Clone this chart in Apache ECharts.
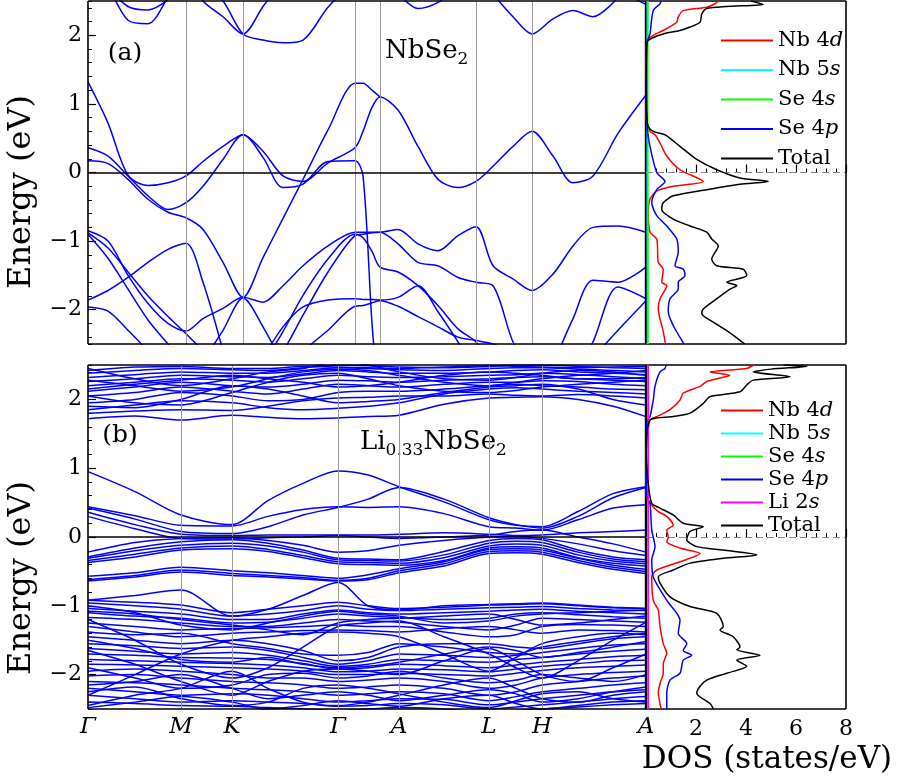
<!DOCTYPE html>
<html><head><meta charset="utf-8">
<script src="https://cdn.jsdelivr.net/npm/echarts@6/dist/echarts.min.js"></script>
<style>html,body{margin:0;padding:0;background:#fff}#c{width:909px;height:780px}</style>
</head><body><div id="c"></div>
<script>
// ---------- k-path (relative path length) ----------
const kA = [0,20,40,60,80,98,115,135,155,175,195,215,240,267,275,284,292,310,330,350,370,388,405,425,444,465,485,505,530,558];
const symA = [0,98,155,267,292,388,444,558];
const kB = [0,47,93,144,180,215,250,280,311,356,401,428,454,490,525,558];
const symB = [0,93,144,250,311,401,454,558];
const symLabels = ['Γ','M','K','Γ','A','L','H','A'];

// ---------- (a) NbSe2 bands (eV) ----------
const bandA_P = [1.32,0.72,-0.04,-0.19,-0.15,-0.05,0.16,0.38,0.55,0.22,-0.22,-0.17,0.16,0.17,-0.05,-2.2,-3.5,null,null,null,null,null,null,null,null,null,null,null,null,null];
const bandA_Q = [0.36,0.24,-0.05,-0.34,-0.54,-0.44,-0.2,0.19,0.55,0.31,-0.05,-0.13,0.14,0.36,0.6,0.95,1.1,0.91,0.38,-0.1,-0.22,-0.13,0.09,0.38,0.6,0.24,-0.15,-0.05,0.57,1.13];
const bandA_R = [0.17,0.13,-0.1,-0.39,-0.58,-0.66,-0.83,-1.31,-1.82,-1.24,-0.67,-0.1,0.62,1.3,1.3,1.2,1.1,null,null,null,null,null,null,null,null,null,null,null,null,null];
const bandA_S = [-0.85,-1.0,-1.5,-1.91,-2.2,-2.31,-2.13,-1.98,-1.82,-1.89,-1.65,-1.36,-1.07,-0.87,-0.87,-0.87,-0.87,-0.83,-1.04,-1.14,-0.92,-0.79,-1.36,-1.55,-1.72,-1.48,-1.07,-0.8,-0.78,-0.87];
const bandA_T = [-0.88,-1.1,-1.45,-1.8,-2.1,-2.35,-2.6,null,null,-2.8,-2.32,-1.79,-1.26,-0.9,-0.95,-1.15,-1.38,-1.45,-1.65,-1.94,-2.28,-2.47,-2.8,null,null,-2.8,-2.13,-1.57,-1.6,-1.38];
const bandA_U = [-0.9,-1.25,-1.7,-2.15,-2.5,-2.8,null,null,null,-2.9,-2.6,-2.08,-1.45,-0.92,-0.9,-0.88,-0.87,-1.04,-1.31,-1.36,-1.53,-1.6,-1.65,-2.47,-2.9,null,null,null,null,null];
const bandA_V = [-1.86,-1.72,-1.53,-1.31,-1.12,-1.03,-1.6,-2.6,null,-2.7,-2.25,-1.96,-1.86,-1.84,-1.85,-1.85,-1.86,-1.82,-1.65,-2.03,-2.47,-2.9,null,null,null,null,-3.0,-2.47,-1.67,-1.84];
const bandA_W = [-1.96,-2.02,-2.3,-2.6,null,null,null,null,null,null,null,-2.6,-2.3,-1.95,-1.94,-1.9,-1.87,-1.95,-2.1,-2.25,-2.4,-2.45,-2.5,-2.62,null,null,null,-2.7,-2.3,-1.87];
const bandA_Y = [null,null,null,null,null,null,-2.75,-2.3,-1.83,-2.25,-2.8,null,null,null,null,null,null,null,null,null,null,null,null,null,null,null,null,null,null,null];
const bandA_U1 = [null,2.7,2.42,2.37,2.52,2.8,null,null,null,null,null,null,null,null,null,null,null,null,null,null,null,null,null,null,null,null,null,null,null,null];
const bandA_U2 = [null,2.75,2.22,2.17,2.55,2.9,null,null,null,null,null,null,null,null,null,null,null,null,null,null,null,null,null,null,null,null,null,null,null,null];
const bandA_U3 = [null,null,null,null,null,2.9,2.5,2.27,2.02,2.42,2.8,null,null,null,null,null,null,null,null,null,null,null,null,null,null,null,null,null,null,null];
const bandA_U4 = [null,null,null,null,null,null,2.75,2.5,2.02,1.93,1.89,1.93,2.41,2.8,null,null,null,null,null,null,null,null,null,null,null,null,null,null,null,null];
const bandA_U5 = [null,null,null,null,null,null,null,null,null,null,null,null,null,null,null,null,2.8,2.6,2.39,2.48,2.7,null,null,null,null,null,null,null,null,null];
const bandA_U6 = [null,null,null,null,null,null,null,null,null,null,null,null,null,null,null,null,null,null,null,null,null,null,2.6,2.27,2.02,2.24,2.36,2.27,2.55,null];
const bandA_U7 = [null,null,null,null,null,null,null,null,null,null,null,null,null,null,null,null,null,null,null,null,null,null,null,null,null,null,null,null,2.65,2.45];

// ---------- (b) Li0.33NbSe2 bands (eV) ----------
const bandB_H1 = [1.72,1.76,1.7,1.77,1.74,1.72,1.73,1.75,1.77,1.93,2.02,2.03,2.04,2.0,1.9,1.75];
const bandB_H2 = [1.8,1.83,1.85,1.84,1.9,1.98,2.02,2.03,2.05,2.05,2.08,2.06,2.05,2.07,2.05,2.02];
const bandB_H3 = [1.85,1.92,1.98,1.95,1.88,1.85,1.87,1.9,1.95,2.08,2.15,2.17,2.15,2.12,2.1,2.08];
const bandB_H4 = [1.95,2.0,2.1,2.05,1.98,2.0,2.1,2.12,2.12,2.15,2.2,2.22,2.2,2.18,2.15,2.14];
const bandB_H5 = [2.05,2.1,2.18,2.12,2.08,2.15,2.22,2.2,2.18,2.22,2.25,2.25,2.27,2.26,2.22,2.2];
const bandB_H6 = [2.12,2.18,2.25,2.2,2.18,2.22,2.28,2.27,2.25,2.28,2.3,2.32,2.33,2.3,2.28,2.26];
const bandB_H7 = [2.2,2.25,2.3,2.28,2.25,2.3,2.35,2.33,2.32,2.33,2.35,2.36,2.38,2.36,2.33,2.3];
const bandB_H8 = [2.26,2.3,2.35,2.33,2.32,2.37,2.42,2.4,2.38,2.38,2.4,2.42,2.43,2.4,2.38,2.36];
const bandB_H9 = [2.32,2.36,2.4,2.38,2.38,2.42,2.46,2.45,2.43,2.42,2.45,2.46,2.46,2.44,2.42,2.4];
const bandB_H10 = [2.38,2.42,2.45,2.43,2.42,2.46,2.5,2.49,2.47,2.46,2.48,2.5,2.5,2.48,2.46,2.45];
const bandB_H11 = [2.05,1.95,1.92,2.1,2.25,2.35,2.38,2.3,2.2,2.12,2.1,2.13,2.18,2.22,2.25,2.28];
const bandB_H12 = [2.45,2.3,2.2,2.3,2.4,2.45,2.55,2.5,2.4,2.3,2.28,2.32,2.38,2.42,2.4,2.35];
const bandB_H13 = [1.9,1.88,2.0,2.2,2.15,2.05,1.95,1.97,2.0,2.1,2.18,2.2,2.22,2.15,2.0,1.92];
const bandB_H14 = [2.15,2.22,2.28,2.35,2.3,2.25,2.18,2.2,2.25,2.35,2.4,2.38,2.35,2.3,2.3,2.32];
const bandB_H15 = [2.28,2.2,2.12,2.18,2.3,2.4,2.44,2.42,2.35,2.25,2.2,2.25,2.3,2.35,2.38,2.42];
const bandB_H16 = [2.42,2.47,2.48,2.45,2.45,2.48,2.47,2.46,2.45,2.47,2.49,2.48,2.47,2.46,2.47,2.48];
const bandB_B1 = [0.95,0.66,0.32,0.18,0.53,0.78,0.96,0.9,0.73,0.51,0.25,0.17,0.15,0.37,0.63,0.73];
const bandB_B2 = [0.44,0.31,0.17,0.16,0.3,0.4,0.44,0.43,0.44,0.34,0.15,0.13,0.1,0.25,0.42,0.47];
const bandB_B3 = [0.42,0.26,0.08,0.05,0.15,0.32,0.43,0.55,0.72,0.55,0.28,0.18,0.13,0.3,0.57,0.72];
const bandB_B4 = [0.36,0.18,0.04,0.02,0.03,0.03,0.03,0.03,0.04,0.06,0.04,0.02,0.03,0.06,0.08,0.1];
const bandB_B5 = [0.3,0.12,-0.02,-0.03,-0.01,0.0,0.02,0.0,-0.02,0.0,0.03,0.08,0.1,0.0,-0.1,-0.22];
const bandB_C0 = [-0.22,-0.08,-0.02,-0.01,-0.05,-0.12,-0.22,-0.2,-0.12,-0.05,0.0,0.01,-0.02,-0.1,-0.2,-0.27];
const bandB_C1 = [-0.29,-0.16,-0.07,-0.04,-0.09,-0.19,-0.31,-0.32,-0.33,-0.21,-0.05,-0.02,-0.04,-0.19,-0.29,-0.33];
const bandB_C2 = [-0.31,-0.2,-0.12,-0.09,-0.13,-0.22,-0.33,-0.34,-0.35,-0.26,-0.09,-0.06,-0.08,-0.22,-0.32,-0.36];
const bandB_C3 = [-0.34,-0.25,-0.16,-0.13,-0.18,-0.27,-0.36,-0.37,-0.38,-0.3,-0.13,-0.1,-0.12,-0.26,-0.35,-0.39];
const bandB_C4 = [-0.37,-0.29,-0.19,-0.17,-0.21,-0.3,-0.39,-0.4,-0.41,-0.34,-0.16,-0.14,-0.16,-0.3,-0.38,-0.42];
const bandB_D1 = [-0.57,-0.52,-0.44,-0.49,-0.52,-0.56,-0.6,-0.55,-0.46,-0.36,-0.18,-0.17,-0.19,-0.31,-0.41,-0.47];
const bandB_D2 = [-0.62,-0.56,-0.48,-0.53,-0.56,-0.59,-0.63,-0.6,-0.49,-0.39,-0.21,-0.2,-0.22,-0.34,-0.44,-0.5];
const bandB_D3 = [-0.64,-0.58,-0.51,-0.56,-0.58,-0.61,-0.64,-0.62,-0.52,-0.42,-0.24,-0.23,-0.25,-0.37,-0.47,-0.53];
const bandB_E1 = [-0.92,-0.85,-0.77,-1.15,-1.05,-0.85,-0.66,-1.0,-1.06,-1.0,-0.98,-0.97,-0.96,-0.99,-1.02,-1.04];
const bandB_L1 = [-0.92,-0.95,-0.99,-1.1,-1.05,-1.0,-0.95,-1.0,-1.04,-1.02,-0.99,-0.98,-0.97,-1.0,-1.03,-1.04];
const bandB_L2 = [-0.96,-1.0,-1.05,-1.15,-1.12,-1.07,-1.0,-1.05,-1.07,-1.05,-1.03,-1.02,-1.01,-1.04,-1.06,-1.07];
const bandB_L3 = [-1.04,-1.08,-1.12,-1.2,-1.2,-1.12,-1.06,-1.1,-1.12,-1.1,-1.08,-1.06,-1.05,-1.08,-1.1,-1.12];
const bandB_L4 = [-1.1,-1.15,-1.18,-1.25,-1.24,-1.18,-1.12,-1.15,-1.17,-1.2,-1.18,-1.12,-1.1,-1.13,-1.16,-1.18];
const bandB_L5 = [-1.17,-1.2,-1.25,-1.3,-1.3,-1.25,-1.2,-1.22,-1.24,-1.3,-1.35,-1.28,-1.18,-1.2,-1.22,-1.24];
const bandB_L6 = [-1.25,-1.3,-1.35,-1.33,-1.32,-1.3,-1.28,-1.3,-1.3,-1.38,-1.45,-1.42,-1.3,-1.27,-1.28,-1.3];
const bandB_L7 = [-1.3,-1.38,-1.45,-1.4,-1.38,-1.36,-1.35,-1.36,-1.38,-1.33,-1.3,-1.35,-1.4,-1.35,-1.36,-1.38];
const bandB_M1 = [-1.45,-1.5,-1.55,-1.5,-1.55,-1.65,-1.8,-1.75,-1.6,-1.55,-1.55,-1.6,-1.62,-1.55,-1.48,-1.45];
const bandB_M2 = [-1.55,-1.58,-1.62,-1.6,-1.65,-1.75,-1.85,-1.8,-1.7,-1.72,-1.75,-1.72,-1.68,-1.62,-1.57,-1.55];
const bandB_M3 = [-1.62,-1.66,-1.7,-1.68,-1.72,-1.8,-1.88,-1.85,-1.78,-1.8,-1.82,-1.78,-1.75,-1.7,-1.66,-1.63];
const bandB_M4 = [-1.7,-1.72,-1.75,-1.76,-1.78,-1.84,-1.92,-1.9,-1.85,-1.87,-1.9,-1.86,-1.82,-1.78,-1.74,-1.72];
const bandB_M5 = [-1.78,-1.8,-1.82,-1.84,-1.86,-1.9,-1.96,-1.95,-1.92,-1.93,-1.96,-1.92,-1.88,-1.84,-1.8,-1.79];
const bandB_M6 = [-1.85,-1.86,-1.88,-1.9,-1.92,-1.95,-2.0,-2.0,-1.98,-2.0,-2.02,-1.98,-1.94,-1.9,-1.88,-1.86];
const bandB_D4 = [-1.95,-1.92,-1.95,-2.0,-2.05,-2.05,-2.1,-2.08,-2.05,-2.1,-2.2,-2.15,-2.05,-2.0,-1.97,-1.95];
const bandB_D5 = [-2.02,-2.0,-2.05,-2.1,-2.12,-2.15,-2.2,-2.18,-2.15,-2.2,-2.3,-2.25,-2.15,-2.1,-2.05,-2.02];
const bandB_D6 = [-2.1,-2.12,-2.15,-2.2,-2.22,-2.25,-2.3,-2.28,-2.25,-2.28,-2.38,-2.32,-2.25,-2.2,-2.15,-2.12];
const bandB_D7 = [-2.2,-2.25,-2.3,-2.28,-2.3,-2.35,-2.4,-2.38,-2.35,-2.36,-2.44,-2.4,-2.35,-2.3,-2.25,-2.22];
const bandB_D8 = [-2.3,-2.35,-2.4,-2.38,-2.4,-2.42,-2.46,-2.45,-2.42,-2.44,-2.5,-2.47,-2.44,-2.4,-2.35,-2.32];
const bandB_D9 = [-2.4,-2.42,-2.45,-2.46,-2.48,-2.5,-2.52,-2.5,-2.48,-2.5,-2.55,-2.52,-2.5,-2.47,-2.44,-2.42];
const bandB_X1 = [-1.2,-1.5,-1.85,-2.05,-1.9,-1.6,-1.3,-1.25,-1.22,-1.45,-1.7,-1.9,-2.05,-1.8,-1.5,-1.24];
const bandB_X2 = [-2.3,-2.0,-1.7,-1.5,-1.45,-1.4,-1.38,-1.4,-1.45,-1.7,-1.95,-1.75,-1.55,-1.45,-1.4,-1.42];
const bandB_X3 = [-1.65,-1.85,-2.1,-2.3,-2.1,-1.95,-1.92,-1.95,-2.0,-1.8,-1.62,-1.8,-2.0,-2.1,-1.9,-1.7];
const bandB_X4 = [-2.45,-2.3,-2.2,-1.95,-2.2,-2.4,-2.45,-2.4,-2.3,-2.15,-2.05,-2.2,-2.35,-2.4,-2.3,-2.25];
const bandB_Y1 = [-1.0,-1.1,-1.28,-1.35,-1.25,-1.15,-1.08,-1.12,-1.15,-1.25,-1.22,-1.15,-1.12,-1.1,-1.08,-1.06];
const bandB_Y2 = [-1.38,-1.42,-1.4,-1.55,-1.62,-1.7,-1.72,-1.68,-1.55,-1.6,-1.68,-1.7,-1.6,-1.52,-1.45,-1.4];
const bandB_Y3 = [-1.5,-1.62,-1.78,-1.82,-1.75,-1.85,-1.9,-1.88,-1.82,-1.7,-1.6,-1.65,-1.75,-1.68,-1.6,-1.52];
const bandB_Y4 = [-1.9,-2.05,-2.2,-2.15,-2.0,-1.98,-2.05,-2.02,-1.95,-2.05,-2.12,-2.08,-2.0,-2.05,-2.1,-2.0];
const bandB_Y5 = [-2.15,-2.1,-2.0,-2.2,-2.35,-2.3,-2.25,-2.3,-2.38,-2.3,-2.22,-2.28,-2.4,-2.35,-2.25,-2.18];
const bandB_Y6 = [-2.25,-2.18,-2.35,-2.45,-2.4,-2.2,-2.15,-2.2,-2.28,-2.4,-2.48,-2.38,-2.28,-2.25,-2.35,-2.4];
const bandB_Y7 = [-1.08,-1.12,-1.2,-1.28,-1.35,-1.42,-1.25,-1.2,-1.18,-1.15,-1.12,-1.2,-1.28,-1.25,-1.2,-1.15];
const bandB_Y8 = [-2.48,-2.4,-2.32,-2.4,-2.5,-2.45,-2.38,-2.42,-2.46,-2.35,-2.3,-2.42,-2.5,-2.45,-2.4,-2.38];

// ---------- DOS (pairs [E, states/eV]) ----------
const dosA_total = [[2.5,4.2],[2.45,4.69],[2.42,3.2],[2.39,2.43],[2.31,2.23],[2.19,2.16],[2.12,1.76],[2.07,1.36],[2.02,0.69],[1.96,0.25],[1.9,0.03],[1.5,0.01],[1.11,0.0],[0.8,0.03],[0.67,0.09],[0.6,0.29],[0.55,0.76],[0.38,1.36],[0.19,2.03],[0.04,2.83],[-0.08,3.76],[-0.13,4.89],[-0.17,3.76],[-0.25,2.43],[-0.34,1.09],[-0.44,0.69],[-0.54,0.63],[-0.68,1.09],[-0.78,1.76],[-0.87,2.43],[-0.97,2.63],[-1.07,2.89],[-1.26,2.63],[-1.36,2.83],[-1.41,3.89],[-1.5,4.03],[-1.6,3.23],[-1.65,3.63],[-1.7,3.36],[-1.84,2.83],[-1.99,2.29],[-2.06,2.23],[-2.18,2.69],[-2.32,3.29],[-2.5,3.95]];
const dosA_nb4d = [[2.5,2.9],[2.46,2.76],[2.41,2.43],[2.36,1.49],[2.27,1.29],[2.19,1.23],[2.07,0.69],[2.0,0.29],[1.93,0.05],[1.5,0.0],[0.8,0.01],[0.6,0.16],[0.55,0.36],[0.43,0.56],[0.24,0.83],[0.04,1.36],[-0.13,2.29],[-0.2,1.09],[-0.27,0.43],[-0.39,0.16],[-0.58,0.09],[-0.87,0.16],[-0.97,0.43],[-1.31,0.49],[-1.41,0.69],[-1.6,0.63],[-1.65,0.83],[-1.84,0.56],[-1.99,0.49],[-2.32,0.69],[-2.5,0.78]];
const dosA_nb5s = [[2.5,0.05],[0.0,0.05],[-2.5,0.06]];
const dosA_se4s = [[2.5,0.08],[1.0,0.07],[-1.0,0.08],[-2.5,0.08]];
const dosA_se4p = [[2.5,0.6],[2.46,0.56],[2.36,0.29],[2.02,0.16],[1.9,0.05],[1.5,0.02],[0.67,0.05],[0.38,0.16],[0.0,0.43],[-0.13,0.76],[-0.25,0.43],[-0.44,0.23],[-0.63,0.43],[-0.78,0.83],[-0.97,1.23],[-1.16,1.29],[-1.36,1.16],[-1.41,1.49],[-1.5,1.56],[-1.6,1.29],[-1.7,1.29],[-1.84,0.96],[-2.03,0.89],[-2.23,1.09],[-2.5,1.52]];

const dosB_total = [[2.5,5.5],[2.48,6.43],[2.44,5.0],[2.4,4.29],[2.33,5.76],[2.28,4.29],[2.21,4.03],[2.11,3.76],[2.04,2.56],[1.94,2.29],[1.8,1.76],[1.75,1.09],[1.7,0.16],[1.2,0.01],[0.78,0.09],[0.49,0.23],[0.42,0.56],[0.32,1.09],[0.2,1.49],[0.15,2.29],[0.08,1.76],[-0.04,1.63],[-0.14,2.03],[-0.19,3.09],[-0.26,4.43],[-0.31,3.09],[-0.38,1.76],[-0.48,1.09],[-0.58,0.49],[-0.67,0.56],[-0.87,0.96],[-1.01,1.76],[-1.11,2.83],[-1.3,3.09],[-1.35,2.96],[-1.45,3.49],[-1.6,3.76],[-1.64,3.63],[-1.72,4.56],[-1.79,3.63],[-1.88,4.03],[-1.98,3.23],[-2.08,2.43],[-2.17,2.16],[-2.27,2.03],[-2.42,2.56],[-2.5,2.7]];
const dosB_nb4d = [[2.5,4.3],[2.45,4.03],[2.4,2.56],[2.35,3.36],[2.31,2.96],[2.26,2.43],[2.19,2.16],[2.09,1.49],[1.99,1.36],[1.85,0.96],[1.75,0.43],[1.7,0.16],[1.2,0.0],[0.6,0.02],[0.49,0.16],[0.37,0.49],[0.3,0.83],[0.17,1.09],[0.1,0.83],[0.0,0.89],[-0.07,0.83],[-0.16,1.36],[-0.24,2.16],[-0.36,1.36],[-0.48,0.43],[-0.58,0.23],[-0.92,0.29],[-1.06,0.49],[-1.3,0.56],[-1.55,0.69],[-1.69,0.83],[-1.84,0.69],[-1.98,0.69],[-2.13,0.56],[-2.27,0.49],[-2.42,0.56],[-2.5,0.6]];
const dosB_nb5s = [[2.5,0.07],[0.0,0.07],[-2.5,0.07]];
const dosB_se4s = [[2.5,0.08],[0.0,0.08],[-2.5,0.08]];
const dosB_se4p = [[2.5,0.8],[2.45,0.76],[2.4,0.56],[2.19,0.36],[1.99,0.29],[1.75,0.16],[1.7,0.05],[1.2,0.01],[0.6,0.03],[0.49,0.16],[0.1,0.23],[-0.14,0.36],[-0.33,0.23],[-0.58,0.29],[-0.92,0.83],[-1.21,1.36],[-1.4,1.29],[-1.55,1.63],[-1.65,1.49],[-1.72,1.83],[-1.79,1.49],[-1.98,1.36],[-2.08,0.96],[-2.27,0.83],[-2.5,0.83]];
const dosB_li2s = [[2.5,0.09],[0.0,0.09],[-2.5,0.09]];

// ---------- assembly ----------
const bandsA = [bandA_P,bandA_Q,bandA_R,bandA_S,bandA_T,bandA_U,bandA_V,bandA_W,bandA_Y,bandA_U1,bandA_U2,bandA_U3,bandA_U4,bandA_U5,bandA_U6,bandA_U7];
const bandsB = [bandB_H1,bandB_H2,bandB_H3,bandB_H4,bandB_H5,bandB_H6,bandB_H7,bandB_H8,bandB_H9,bandB_H10,bandB_H11,bandB_H12,
  bandB_H13,bandB_H14,bandB_H15,bandB_H16,
  bandB_B1,bandB_B2,bandB_B3,bandB_B4,bandB_B5,bandB_C0,bandB_C1,bandB_C2,bandB_C3,bandB_C4,bandB_D1,bandB_D2,bandB_D3,bandB_E1,
  bandB_L1,bandB_L2,bandB_L3,bandB_L4,bandB_L5,bandB_L6,bandB_L7,bandB_M1,bandB_M2,bandB_M3,bandB_M4,bandB_M5,bandB_M6,
  bandB_D4,bandB_D5,bandB_D6,bandB_D7,bandB_D8,bandB_D9,bandB_X1,bandB_X2,bandB_X3,bandB_X4,
  bandB_Y1,bandB_Y2,bandB_Y3,bandB_Y4,bandB_Y5,bandB_Y6,bandB_Y7,bandB_Y8];

const FONT = 'DejaVu Serif';
const BLUE = '#0000ff';
const E_MIN = -2.5, E_MAX = 2.5, K_MAX = 558, DOS_MAX = 8;
const fmtE = v => (v < 0 ? '\u2212' + (-v) : '' + v);
const frameLine = (w) => ({ color: '#000', width: w, type: 'solid' });

function bandSeries(ks, bands, xi, yi, markLine) {
  return bands.map((b, j) => {
    const s = {
      type: 'line', xAxisIndex: xi, yAxisIndex: yi, silent: true,
      symbol: 'none', showSymbol: false, smooth: 0.3, animation: false,
      lineStyle: { color: BLUE, width: 1.5 }, color: BLUE, z: 3,
      data: ks.map((k, i) => [k, b[i]])
    };
    if (j === 0 && markLine) s.markLine = markLine;
    return s;
  });
}

function symMarkLine(ks, withLabels) {
  const data = ks.map((k, i) => {
    const edge = k === 0 || k === K_MAX;
    return {
      xAxis: k, name: withLabels ? symLabels[i] : '',
      lineStyle: edge ? frameLine(k === 0 ? 1.6 : 2.4) : { color: '#9a9a9a', width: 1, type: 'solid' },
      label: { show: withLabels, position: 'start', formatter: '{b}', distance: 7,
        fontFamily: FONT, fontStyle: 'italic', fontSize: 23, color: '#000' }
    };
  });
  data.push({ yAxis: 0, lineStyle: { color: '#000', width: 1.5, type: 'solid' }, label: { show: false } });
  data.push({ yAxis: E_MAX, lineStyle: frameLine(1.6), label: { show: false } });
  data.push({ yAxis: E_MIN, lineStyle: frameLine(1.6), label: { show: false } });
  return { symbol: ['none', 'none'], silent: true, animation: false, z: 5, data };
}

function dosSeries(name, arr, color, xi, yi, extra) {
  const s = {
    type: 'line', name, xAxisIndex: xi, yAxisIndex: yi, silent: true, symbol: 'none',
    smooth: 0.25, animation: false, color, lineStyle: { color, width: 1.5 }, z: 6,
    data: arr.map(p => [p[1], p[0]])
  };
  if (extra) Object.assign(s, extra);
  return s;
}
const dosFrame = {
  markLine: { symbol: ['none','none'], silent: true, animation: false, z: 5, label: { show: false },
    data: [
      { yAxis: 0, lineStyle: { color: '#888', width: 1, type: [7, 4] } },
      { yAxis: E_MAX, lineStyle: frameLine(1.6) },
      { yAxis: E_MIN, lineStyle: frameLine(1.6) },
      { xAxis: DOS_MAX, lineStyle: frameLine(1.6) }
    ] }
};

const series = [].concat(
  bandSeries(kA, bandsA, 0, 0, symMarkLine(symA, false)),
  bandSeries(kB, bandsB, 2, 3, symMarkLine(symB, true)),
  [
    dosSeries('Nb 4d', dosA_nb4d, '#ff0000', 1, 2),
    dosSeries('Nb 5s', dosA_nb5s, '#00ffff', 1, 2),
    dosSeries('Se 4s', dosA_se4s, '#00ff00', 1, 2),
    dosSeries('Se 4p', dosA_se4p, '#0000ff', 1, 2),
    dosSeries('Total', dosA_total, '#000000', 1, 2, dosFrame),
    dosSeries('Nb 4d', dosB_nb4d, '#ff0000', 3, 5),
    dosSeries('Nb 5s', dosB_nb5s, '#00ffff', 3, 5),
    dosSeries('Se 4s', dosB_se4s, '#00ff00', 3, 5),
    dosSeries('Se 4p', dosB_se4p, '#0000ff', 3, 5),
    dosSeries('Li 2s', dosB_li2s, '#ff00ff', 3, 5),
    dosSeries('Total', dosB_total, '#000000', 3, 5, dosFrame)
  ]
);

const bandX = gi => ({ gridIndex: gi, type: 'value', min: 0, max: K_MAX,
  axisLine: { show: false }, axisTick: {show:false}, axisLabel: {show:false}, splitLine: {show:false} });
const dosX = (gi, labels) => ({ gridIndex: gi, type: 'value', min: 0, max: DOS_MAX, interval: 2,
  axisLine: { show: false }, splitLine: {show:false},
  axisTick: { show: true, inside: true, length: 8, lineStyle: { color: '#000', width: 1.2 } },
  minorTick: { show: true, splitNumber: 5, length: 4, lineStyle: { color: '#000', width: 1 } },
  axisLabel: { show: labels, showMinLabel: false, margin: 9, fontFamily: FONT, fontSize: 22, color: '#000' } });
const eMajor = gi => ({ gridIndex: gi, type: 'value', min: E_MIN, max: E_MAX, splitNumber: 5, position: 'left',
  axisLine: { show: false }, splitLine: {show:false},
  axisTick: { show: true, inside: true, length: 8, lineStyle: { color: '#000', width: 1.2 } },
  axisLabel: { show: true, showMinLabel: false, showMaxLabel: false, margin: 6, fontFamily: FONT, fontSize: 22, color: '#000', formatter: fmtE } });
const eMinor = gi => ({ gridIndex: gi, type: 'value', min: E_MIN, max: E_MAX, splitNumber: 25, position: 'left', offset: 0,
  axisLine: {show:false}, splitLine: {show:false}, axisLabel: {show:false},
  axisTick: { show: true, inside: true, length: 4, lineStyle: { color: '#000', width: 1 } } });
const eHidden = gi => ({ gridIndex: gi, type: 'value', min: E_MIN, max: E_MAX, position: 'left',
  axisLine: { show: false }, splitLine: {show:false}, axisLabel: {show:false}, axisTick: {show:false} });

const legendText = {
  fontFamily: FONT, fontSize: 21, color: '#000',
  rich: {
    n: { fontFamily: FONT, fontSize: 21, color: '#000', lineHeight: 22 },
    i: { fontFamily: FONT, fontSize: 21, color: '#000', fontStyle: 'italic', lineHeight: 22 }
  }
};
const legendFmt = name => {
  const m = name.match(/^(.*\d)([a-z])$/);
  return m ? '{n|' + m[1] + '}{i|' + m[2] + '}' : '{n|' + name + '}';
};

const titleRich = {
  m: { fontFamily: FONT, fontSize: 26, color: '#000', lineHeight: 28, verticalAlign: 'top' },
  s: { fontFamily: FONT, fontSize: 17, color: '#000', lineHeight: 30, verticalAlign: 'bottom' }
};

const option = {
  backgroundColor: '#fff',
  animation: false,
  grid: [
    { left: 88, top: 1, width: 558, height: 343, show: false },
    { left: 646, top: 1, width: 200, height: 343, show: false },
    { left: 88, top: 365, width: 558, height: 344, show: false },
    { left: 646, top: 365, width: 200, height: 344, show: false }
  ],
  xAxis: [bandX(0), dosX(1, false), bandX(2), dosX(3, true)],
  yAxis: [eMajor(0), eMinor(0), eHidden(1), eMajor(2), eMinor(2), eHidden(3)],
  legend: [
    { left: 716, top: 25, orient: 'vertical', icon: 'rect', itemWidth: 52, itemHeight: 2, itemGap: 8.5,
      selectedMode: false, data: ['Nb 4d','Nb 5s','Se 4s','Se 4p','Total'], formatter: legendFmt, textStyle: legendText },
    { left: 716, top: 395, orient: 'vertical', icon: 'rect', itemWidth: 42, itemHeight: 2, itemGap: 2,
      selectedMode: false, data: ['Nb 4d','Nb 5s','Se 4s','Se 4p','Li 2s','Total'], formatter: legendFmt, textStyle: legendText }
  ],
  graphic: [
    { type: 'text', x: 125, y: 53, silent: true, style: { text: '(a)', fontFamily: FONT, fontSize: 25, fill: '#000', align: 'center', verticalAlign: 'middle' } },
    { type: 'text', x: 385, y: 38, silent: true, style: { text: '{m|NbSe}{s|2}', rich: titleRich, align: 'left', verticalAlign: 'top' } },
    { type: 'text', x: 120, y: 435, silent: true, style: { text: '(b)', fontFamily: FONT, fontSize: 25, fill: '#000', align: 'center', verticalAlign: 'middle' } },
    { type: 'text', x: 360, y: 429, silent: true, style: { text: '{m|Li}{s|0.33}{m|NbSe}{s|2}', rich: titleRich, align: 'left', verticalAlign: 'top' } },
    { type: 'text', x: 22, y: 192, rotation: Math.PI / 2, silent: true, style: { text: 'Energy (eV)', fontFamily: FONT, fontSize: 32, fill: '#000', align: 'center', verticalAlign: 'middle' } },
    { type: 'text', x: 22, y: 578, rotation: Math.PI / 2, silent: true, style: { text: 'Energy (eV)', fontFamily: FONT, fontSize: 32, fill: '#000', align: 'center', verticalAlign: 'middle' } },
    { type: 'text', x: 767, y: 760, silent: true, style: { text: 'DOS (states/eV)', fontFamily: FONT, fontSize: 31, fill: '#000', align: 'center', verticalAlign: 'middle' } }
  ],
  series
};

const chart = echarts.init(document.getElementById('c'), null, { renderer: 'canvas' });
chart.setOption(option);
</script>
</body></html>
